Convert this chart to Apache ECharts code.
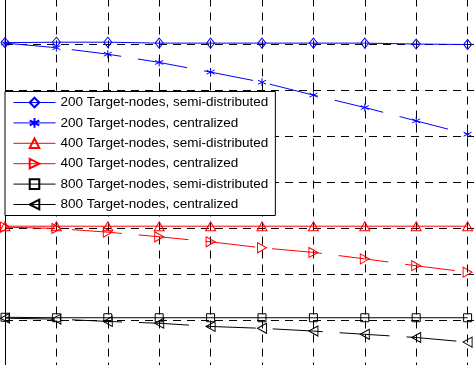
<!DOCTYPE html>
<html><head><meta charset="utf-8">
<script src="https://cdn.jsdelivr.net/npm/echarts@6/dist/echarts.min.js"></script>
<style>html,body{margin:0;padding:0;background:#fff}#c{width:474px;height:365px}</style>
</head><body><div id="c"></div>
<script>
const xValues = [1, 2, 3, 4, 5, 6, 7, 8, 9, 10];
const seriesNames = [
  '200 Target-nodes, semi-distributed',
  '200 Target-nodes, centralized',
  '400 Target-nodes, semi-distributed',
  '400 Target-nodes, centralized',
  '800 Target-nodes, semi-distributed',
  '800 Target-nodes, centralized'
];
const semi200 = [7.04, 7.05, 7.05, 7.03, 7.03, 7.03, 7.03, 7.03, 7.01, 7.00];
const cent200 = [7.03, 6.93, 6.79, 6.61, 6.40, 6.18, 5.90, 5.63, 5.34, 5.05];
const semi400 = [3.05, 3.05, 3.05, 3.05, 3.05, 3.05, 3.05, 3.05, 3.05, 3.05];
const cent400 = [3.03, 3.00, 2.92, 2.82, 2.71, 2.58, 2.48, 2.34, 2.19, 2.05];
const semi800 = [1.07, 1.06, 1.06, 1.06, 1.06, 1.06, 1.06, 1.06, 1.06, 1.06];
const cent800 = [1.05, 1.03, 0.98, 0.94, 0.87, 0.83, 0.77, 0.70, 0.63, 0.53];

const STAR = 'path://M0,-5L0,5M-4.33,-2.5L4.33,2.5M-4.33,2.5L4.33,-2.5';
const TRI_R = 'path://M0,0L10,5L0,10Z';
const TRI_L = 'path://M10,0L0,5L10,10Z';

function mk(name, vals, color, symbol, size, dashed) {
  return {
    name: name,
    type: 'line',
    data: xValues.map((x, i) => [x, vals[i]]),
    symbol: symbol,
    symbolSize: size,
    showAllSymbol: true,
    lineStyle: { color: color, width: 1, type: dashed ? [50, 17] : 'solid' },
    itemStyle: { color: 'rgba(0,0,0,0)', borderColor: color, borderWidth: 1 },
    emphasis: { disabled: true },
    animation: false
  };
}

const chart = echarts.init(document.getElementById('c'), null, { renderer: 'canvas' });
chart.setOption({
  animation: false,
  backgroundColor: '#fff',
  grid: { left: 5, width: 514, top: -1.5, height: 368, containLabel: false, outerBoundsMode: 'none' },
  xAxis: {
    type: 'value', min: 1, max: 11, interval: 1,
    axisLine: { show: false }, axisTick: { show: false }, axisLabel: { show: false },
    splitLine: { show: true, lineStyle: { color: '#000', width: 1, type: [8, 6] } }
  },
  yAxis: {
    type: 'value', min: 0, max: 8, interval: 1,
    axisLine: { show: true, onZero: false, lineStyle: { color: '#000', width: 1 } },
    axisTick: { show: false }, axisLabel: { show: false },
    splitLine: { show: true, lineStyle: { color: '#000', width: 1, type: [8, 6] } }
  },
  legend: {
    orient: 'vertical',
    left: 5, top: 91.5,
    padding: [4, 7, 4, 8],
    itemWidth: 42, itemHeight: 12, itemGap: 6.4,
    backgroundColor: '#fff', borderColor: '#000', borderWidth: 1,
    lineStyle: { type: 'solid', width: 1 },
    textStyle: { fontFamily: 'Liberation Sans, Arial, sans-serif', fontSize: 13.5, color: '#000', lineHeight: 12 },
    data: seriesNames
  },
  series: [
    mk(seriesNames[0], semi200, '#0000ff', 'diamond', [8, 10], false),
    mk(seriesNames[1], cent200, '#0000ff', STAR, 8, true),
    mk(seriesNames[2], semi400, '#ff0000', 'triangle', [10, 9], false),
    mk(seriesNames[3], cent400, '#ff0000', TRI_R, [9, 10], true),
    mk(seriesNames[4], semi800, '#000000', 'rect', 8, false),
    mk(seriesNames[5], cent800, '#000000', TRI_L, [9, 10], true)
  ]
});
</script></body></html>
